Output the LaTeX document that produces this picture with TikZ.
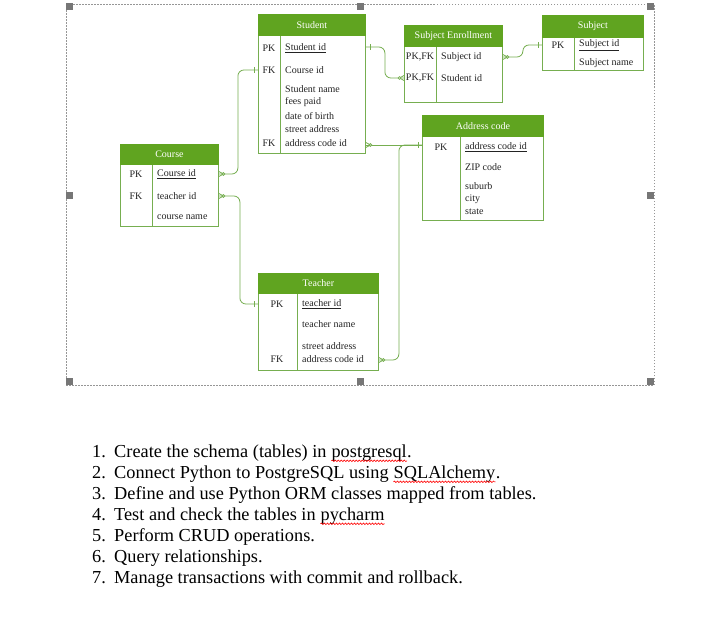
\documentclass[tikz,border=0pt]{standalone}
\usepackage{fontspec}
\setmainfont{Liberation Serif}
\usetikzlibrary{calc,decorations.pathmorphing}
\definecolor{hdr}{RGB}{96,164,32}
\definecolor{bdr}{RGB}{118,174,80}
\definecolor{txt}{RGB}{35,35,35}
\definecolor{hdl}{RGB}{118,118,118}
\definecolor{frm}{RGB}{150,150,150}
\newcommand\ertable[8]{%
  \node[tbox, anchor=north west, minimum width={#4-#2}, minimum height={#6-#3}] (#1) at (#2,#3) {};
  \node[thead, anchor=north west, minimum width={#4-#2}, minimum height={#5-#3}] (#1h) at (#2,#3) {#8};
  \draw[bline] (#1h.south -| #7,0) -- (#1.south -| #7,0);
}
\newcommand\onebar[2]{\draw[conn] ($(#1)+(#2*4,-3)$) -- ++(0,6);}
\newcommand\ocrow[2]{%
  \draw[conn] ($(#1)+(0,-2.5)$) -- ($(#1)+(#2*4.5,0)$) -- ($(#1)+(0,2.5)$);
  \draw[conn, fill=white] ($(#1)+(#2*4.5,0)$) circle (1.4);
}
\begin{document}
\begin{tikzpicture}[x=1pt,y=-1pt,
  tbox/.style={draw=bdr, line width=0.9pt, fill=white, inner sep=0},
  thead/.style={draw=hdr, line width=0.9pt, fill=hdr, inner sep=0, text=white, font=\fontsize{10}{12}\selectfont},
  bline/.style={draw=bdr, line width=0.9pt},
  keyt/.style={inner sep=0, text=txt, font=\fontsize{10}{12}\selectfont},
  valt/.style={inner sep=0, anchor=west, text=txt, font=\fontsize{10}{12}\selectfont},
  conn/.style={draw=bdr, line width=0.8pt},
  handle/.style={fill=hdl, draw=none, minimum size=7, inner sep=0, anchor=north west},
  litem/.style={inner sep=0, anchor=base west, font=\fontsize{18.3}{21}\selectfont},
  squig/.style={draw=red, line width=0.6pt, decorate, decoration={snake, segment length=3pt, amplitude=0.8pt}}
]
\useasboundingbox (0,0) rectangle (723,619);
\fill[white] (0,0) rectangle (723,619);

% selection frame
\draw[frm, line width=0.8pt, dash pattern=on 1.5pt off 1.5pt] (66,4) rectangle (654,385);
\node[handle] (h1) at (66,3) {};
\node[handle] (h2) at (357,3) {};
\node[handle] (h3) at (647,3) {};
\node[handle] (h4) at (66,192) {};
\node[handle] (h5) at (647,192) {};
\node[handle] (h6) at (66,378) {};
\node[handle] (h7) at (357,378) {};
\node[handle] (h8) at (647,378) {};

% tables
\ertable{stu}{258}{14}{365}{35}{153}{280}{Student}
\ertable{enr}{404}{25}{502}{46}{102}{436}{Subject Enrollment}
\ertable{sub}{542}{15}{643}{37}{70}{574}{Subject}
\ertable{cou}{120}{144}{218}{164}{226}{152}{Course}
\ertable{adr}{422}{115}{543}{136}{220}{460}{Address code}
\ertable{tea}{258}{273}{378}{293}{370}{297}{Teacher}

% Student rows
\node[keyt] (stuk1) at (269,48) {PK};
\node[valt] (stuv1) at (285,48) {\underline{Student id}};
\node[keyt] (stuk2) at (269,70) {FK};
\node[valt] (stuv2) at (285,70) {Course id};
\node[valt] (stuv3) at (285,89) {Student name};
\node[valt] (stuv4) at (285,102.5) {fees paid};
\node[valt] (stuv5) at (285,116) {date of birth};
\node[valt] (stuv6) at (285,129.5) {street address};
\node[keyt] (stuk7) at (269,143) {FK};
\node[valt] (stuv7) at (285,143) {address code id};

% Subject Enrollment rows
\node[keyt] (enrk1) at (420,57) {PK,FK};
\node[valt] (enrv1) at (441,57) {Subject id};
\node[keyt] (enrk2) at (420,78) {PK,FK};
\node[valt] (enrv2) at (441,78) {Student id};

% Subject rows
\node[keyt] (subk1) at (558,45) {PK};
\node[valt] (subv1) at (579,45) {\underline{Subject id}};
\node[valt] (subv2) at (579,63) {Subject name};

% Course rows
\node[keyt] (couk1) at (136,174) {PK};
\node[valt] (couv1) at (157,174) {\underline{Course id}};
\node[keyt] (couk2) at (136,196) {FK};
\node[valt] (couv2) at (157,196) {teacher id};
\node[valt] (couv3) at (157,217) {course name};

% Address code rows
\node[keyt] (adrk1) at (441,147) {PK};
\node[valt] (adrv1) at (465,147) {\underline{address code id}};
\node[valt] (adrv2) at (465,167) {ZIP code};
\node[valt] (adrv3) at (465,186) {suburb};
\node[valt] (adrv4) at (465,199) {city};
\node[valt] (adrv5) at (465,212) {state};

% Teacher rows
\node[keyt] (teak1) at (277,304) {PK};
\node[valt] (teav1) at (302,304) {\underline{teacher id}};
\node[valt] (teav2) at (302,324) {teacher name};
\node[valt] (teav3) at (302,346) {street address};
\node[keyt] (teak4) at (277,359) {FK};
\node[valt] (teav4) at (302,359) {address code id};

% connector end points
\coordinate (c1a) at (cou.east |- couv1);
\coordinate (c1b) at (stu.west |- stuv2);
\coordinate (c2a) at (cou.east |- couv2);
\coordinate (c2b) at (tea.west |- teav1);
\coordinate (c3a) at ($(stu.east |- stuv1)+(0,-1)$);
\coordinate (c3b) at (enr.west |- enrv2);
\coordinate (c4a) at (enr.east |- enrv1);
\coordinate (c4b) at (sub.west |- subv1);
\coordinate (c5a) at ($(stu.east |- stuv7)+(0,2)$);
\coordinate (c5b) at (adr.west |- c5a);
\coordinate (c6a) at ($(tea.east |- teav4)+(0,1)$);

% connectors
\draw[conn, rounded corners=6pt] (c1a) -- ($(c1a)+(19,0)$) |- (c1b);
\draw[conn, rounded corners=6pt] (c2a) -- ($(c2a)+(21,0)$) |- (c2b);
\draw[conn, rounded corners=6pt] (c3a) -- ($(c3a)+(19,0)$) |- (c3b);
\draw[conn, rounded corners=6pt] (c4a) -- ($(c4a)+(20,0)$) |- (c4b);
\draw[conn] (c5a) -- (c5b);
\draw[conn, rounded corners=6pt] (c6a) -- ($(c6a)+(20,0)$) |- (c5b);

% cardinality marks
\ocrow{c1a}{1}
\onebar{c1b}{-1}
\ocrow{c2a}{1}
\onebar{c2b}{-1}
\onebar{c3a}{1}
\ocrow{c3b}{-1}
\ocrow{c4a}{1}
\onebar{c4b}{-1}
\ocrow{c5a}{1}
\onebar{c5b}{-1}
\ocrow{c6a}{1}

% task list
\node[litem] (n1) at (92,457) {1.};
\node[litem] (t1) at (114,457) {Create the schema (tables) in};
\node[litem] (w1) at ($(t1.base east)+(4.6,0)$) {postgresql};
\node[litem] (p1) at (w1.base east) {.};
\node[litem] (n2) at (92,478) {2.};
\node[litem] (t2) at (114,478) {Connect Python to PostgreSQL using};
\node[litem] (w2) at ($(t2.base east)+(4.6,0)$) {SQLAlchemy};
\node[litem] (p2) at (w2.base east) {.};
\node[litem] (n3) at (92,499) {3.};
\node[litem] (t3) at (114,499) {Define and use Python ORM classes mapped from tables.};
\node[litem] (n4) at (92,520) {4.};
\node[litem] (t4) at (114,520) {Test and check the tables in};
\node[litem] (w4) at ($(t4.base east)+(4.6,0)$) {pycharm};
\node[litem] (n5) at (92,541) {5.};
\node[litem] (t5) at (114,541) {Perform CRUD operations.};
\node[litem] (n6) at (92,562) {6.};
\node[litem] (t6) at (114,562) {Query relationships.};
\node[litem] (n7) at (92,583) {7.};
\node[litem] (t7) at (114,583) {Manage transactions with commit and rollback.};

\draw[squig] ($(w1.base west)+(0,3.8)$) -- ($(w1.base east)+(0,3.8)$);
\draw[squig] ($(w2.base west)+(0,3.8)$) -- ($(w2.base east)+(0,3.8)$);
\draw[squig] ($(w4.base west)+(0,3.8)$) -- ($(w4.base east)+(0,3.8)$);
\end{tikzpicture}
\end{document}
